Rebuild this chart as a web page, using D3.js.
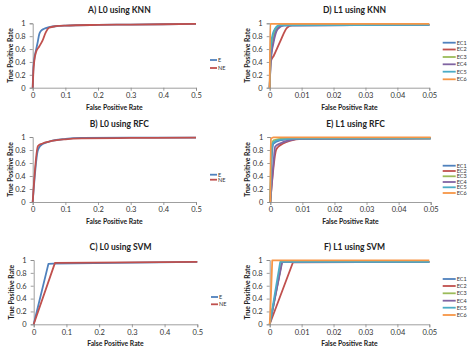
<!DOCTYPE html>
<html><head><meta charset="utf-8">
<script src="https://cdn.jsdelivr.net/npm/d3@7"></script>
<style>body{margin:0;background:#fff}svg{display:block;font-family:Lato,"Open Sans",sans-serif}</style>
</head><body>
<svg id="c" width="474" height="355"></svg>
<script>
// ---- data ----
const titles = ["A) L0 using KNN","B) L0 using RFC","C) L0 using SVM","D) L1 using KNN","E) L1 using RFC","F) L1 using SVM"];
const l0Series = ["E","NE"];
const l1Series = ["EC1","EC2","EC3","EC4","EC5","EC6"];
const l0Ticks = [0,0.1,0.2,0.3,0.4,0.5];
const l1Ticks = [0,0.01,0.02,0.03,0.04,0.05];
const yTicks = [0,0.2,0.4,0.6,0.8,1];

const knnL0_E  = [[0,0],[0.002,0.3],[0.005,0.45],[0.01,0.58],[0.015,0.7],[0.02,0.83],[0.025,0.88],[0.035,0.915],[0.05,0.94],[0.08,0.96],[0.1,0.965],[0.2,0.975],[0.3,0.98],[0.5,0.99]];
const knnL0_NE = [[0,0],[0.002,0.25],[0.005,0.42],[0.01,0.55],[0.02,0.64],[0.03,0.73],[0.04,0.86],[0.05,0.93],[0.07,0.955],[0.1,0.965],[0.2,0.975],[0.3,0.98],[0.5,0.99]];
const rfcL0_E  = [[0,0],[0.015,0.78],[0.02,0.84],[0.03,0.89],[0.05,0.93],[0.1,0.97],[0.15,0.985],[0.3,0.99],[0.5,0.99]];
const rfcL0_NE = [[0,0],[0.016,0.86],[0.03,0.9],[0.05,0.93],[0.1,0.965],[0.15,0.978],[0.3,0.985],[0.5,0.99]];
const svmL0_E  = [[0,0],[0.045,0.94],[0.06,0.945],[0.5,0.97]];
const svmL0_NE = [[0,0],[0.065,0.955],[0.5,0.97]];

const knnL1_EC1 = [[0,0],[0.0003,0.4],[0.001,0.7],[0.0023,0.92],[0.004,0.97],[0.05,0.975]];
const knnL1_EC2 = [[0,0],[0.0003,0.4],[0.0013,0.5],[0.0033,0.72],[0.0054,0.93],[0.007,0.97],[0.05,0.975]];
const knnL1_EC3 = [[0,0],[0.0003,0.5],[0.001,0.8],[0.002,0.93],[0.0035,0.975],[0.05,0.98]];
const knnL1_EC4 = [[0,0],[0.0003,0.4],[0.0012,0.7],[0.0025,0.91],[0.0045,0.97],[0.05,0.975]];
const knnL1_EC5 = [[0,0],[0.0003,0.6],[0.0012,0.87],[0.003,0.97],[0.05,0.977]];
const knnL1_EC6 = [[0,0],[0.0002,0.99],[0.05,0.99]];

const rfcL1_EC1 = [[0,0],[0.0006,0.8],[0.001,0.9],[0.003,0.95],[0.008,0.975],[0.05,0.98]];
const rfcL1_EC2 = [[0,0],[0.0018,0.8],[0.0025,0.85],[0.004,0.9],[0.006,0.94],[0.01,0.97],[0.05,0.98]];
const rfcL1_EC3 = [[0,0],[0.0004,0.85],[0.001,0.95],[0.004,0.975],[0.05,0.98]];
const rfcL1_EC4 = [[0,0],[0.001,0.6],[0.0015,0.85],[0.003,0.9],[0.006,0.95],[0.01,0.97],[0.05,0.98]];
const rfcL1_EC5 = [[0,0],[0.0005,0.85],[0.001,0.92],[0.003,0.96],[0.008,0.975],[0.05,0.98]];
const rfcL1_EC6 = [[0,0],[0.0002,0.97],[0.001,0.995],[0.05,0.995]];

const svmL1_EC1 = [[0,0],[0.0038,0.97],[0.05,0.97]];
const svmL1_EC2 = [[0,0],[0.0073,0.965],[0.05,0.97]];
const svmL1_EC3 = [[0,0],[0.0038,0.97],[0.05,0.97]];
const svmL1_EC4 = [[0,0],[0.0039,0.968],[0.05,0.97]];
const svmL1_EC5 = [[0,0],[0.0033,0.97],[0.05,0.97]];
const svmL1_EC6 = [[0,0],[0.0002,0.2],[0.0008,0.995],[0.05,0.995]];

const colorsL0 = ["#4F81BD","#C0504D"];
const colorsL1 = ["#4F81BD","#C0504D","#9BBB59","#8064A2","#4BACC6","#F79646"];

// ---- layout ----
const fmt = d => d===0 ? "0" : String(d);
const panels = [
  {t:0, x0:32.7, x1:196, yT:23.3, yB:87.7, ticks:l0Ticks, names:l0Series, colors:colorsL0, data:[knnL0_E,knnL0_NE], legY:[60,68], legX:210},
  {t:1, x0:32.7, x1:196, yT:137, yB:202, ticks:l0Ticks, names:l0Series, colors:colorsL0, data:[rfcL0_E,rfcL0_NE], legY:[174.7,179.7], legX:210},
  {t:2, x0:33.7, x1:197.3, yT:260, yB:324.3, ticks:l0Ticks, names:l0Series, colors:colorsL0, data:[svmL0_E,svmL0_NE], legY:[297,304.3], legX:211},
  {t:3, x0:269.7, x1:429.3, yT:23.3, yB:87.7, ticks:l1Ticks, names:l1Series, colors:colorsL1, data:[knnL1_EC1,knnL1_EC2,knnL1_EC3,knnL1_EC4,knnL1_EC5,knnL1_EC6], legY:[42.7,49.5,57,64.3,71.7,79.3], legX:442.7},
  {t:4, x0:270.3, x1:430.7, yT:137, yB:202, ticks:l1Ticks, names:l1Series, colors:colorsL1, data:[rfcL1_EC1,rfcL1_EC2,rfcL1_EC3,rfcL1_EC4,rfcL1_EC5,rfcL1_EC6], legY:[165.7,171,176.3,182,187.3,193], legX:442.7},
  {t:5, x0:269.7, x1:429.3, yT:260, yB:324.3, ticks:l1Ticks, names:l1Series, colors:colorsL1, data:[svmL1_EC1,svmL1_EC2,svmL1_EC3,svmL1_EC4,svmL1_EC5,svmL1_EC6], legY:[279,286,293.3,300.7,307.7,315], legX:442.7}
];

const svg = d3.select("#c");
panels.forEach(p => {
  const g = svg.append("g");
  const x = d3.scaleLinear().domain([p.ticks[0], p.ticks[p.ticks.length-1]]).range([p.x0, p.x1]);
  const y = d3.scaleLinear().domain([0,1]).range([p.yB, p.yT]);
  const xa = g.append("g").attr("transform",`translate(0,${p.yB})`)
    .call(d3.axisBottom(x).tickValues(p.ticks).tickFormat(fmt).tickSizeOuter(0).tickSize(3));
  const ya = g.append("g").attr("transform",`translate(${p.x0},0)`)
    .call(d3.axisLeft(y).tickValues(yTicks).tickFormat(fmt).tickSizeOuter(0).tickSize(3));
  [xa,ya].forEach(a=>{
    a.select(".domain").attr("stroke","#868686").attr("stroke-width",0.8);
    a.selectAll(".tick line").attr("stroke","#868686").attr("stroke-width",0.8);
    a.selectAll("text").attr("font-size",7.5).attr("fill","#333").attr("font-family","Lato,'Open Sans',sans-serif");
  });
  xa.selectAll("text").attr("y",5);
  ya.selectAll("text").attr("dx","-1");

  const smooth = d3.line().x(d=>x(d[0])).y(d=>y(d[1])).curve(d3.curveMonotoneX);
  const straight = d3.line().x(d=>x(d[0])).y(d=>y(d[1]));
  p.data.forEach((s,i)=>{
    g.append("path").datum(s).attr("d", (p.t===2||p.t===5) ? straight(s) : smooth(s))
      .attr("fill","none").attr("stroke",p.colors[i]).attr("stroke-width",1.8).attr("stroke-linejoin","round");
  });
  // title
  g.append("text").attr("x",(p.x0+p.x1)/2+5).attr("y",p.yT-10).attr("text-anchor","middle")
    .attr("font-size",8.5).attr("font-weight","bold").attr("fill","#222").text(titles[p.t]);
  // axis titles
  g.append("text").attr("x",(p.x0+p.x1)/2).attr("y",p.yB+22).attr("text-anchor","middle")
    .attr("font-size",6.8).attr("font-weight","bold").attr("fill","#222").text("False Positive Rate");
  g.append("text").attr("transform",`translate(${p.x0-20},${(p.yT+p.yB)/2}) rotate(-90)`).attr("text-anchor","middle")
    .attr("font-size",6.8).attr("font-weight","bold").attr("fill","#222").text("True Positive Rate");
  // legend
  const big = p.names.length>2;
  p.names.forEach((n,i)=>{
    g.append("line").attr("x1",p.legX).attr("x2",p.legX+(big?13:7)).attr("y1",p.legY[i]).attr("y2",p.legY[i])
      .attr("stroke",p.colors[i]).attr("stroke-width",1.8);
    g.append("text").attr("x",p.legX+(big?14:8)).attr("y",p.legY[i]).attr("dy","0.35em")
      .attr("font-size",5.5).attr("fill","#333").text(n);
  });
});
</script>
</body></html>
